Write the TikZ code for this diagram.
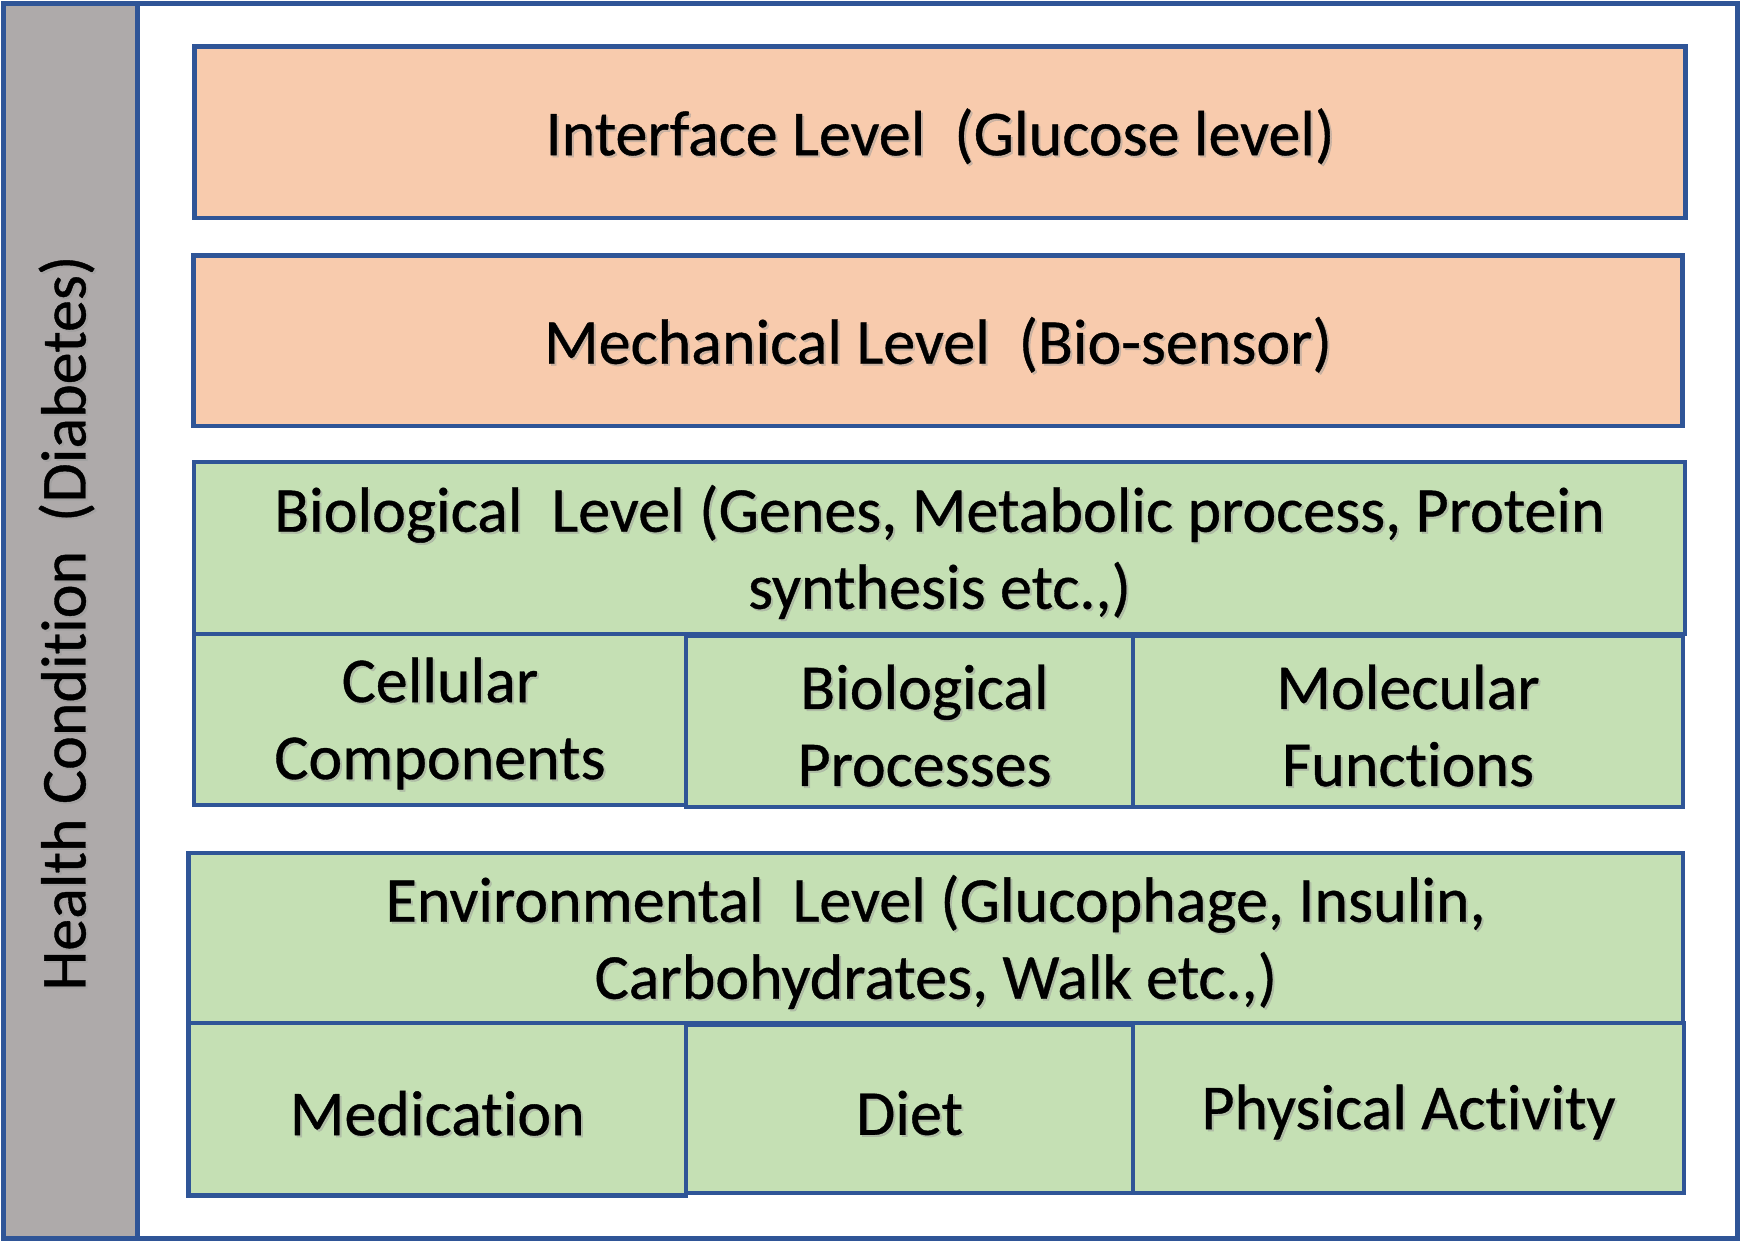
\documentclass[tikz,border=0pt]{standalone}
\usepackage{fontspec}
\setmainfont{Carlito}[Ligatures=NoCommon, FakeBold=0.6]
\definecolor{bl}{HTML}{2F5597}
\definecolor{org}{HTML}{F8CBAD}
\definecolor{grn}{HTML}{C5E0B4}
\definecolor{gry}{HTML}{AEAAAA}
\newcommand\lvltext[3][0]{%
  \node[shd, xshift=#1pt] at ([shift={(2,2)}]#2.center) {#3};
  \node[txt, xshift=#1pt] at (#2.center) {#3};}
\begin{document}
\begin{tikzpicture}[x=1pt,y=-1pt,
  lvlbox/.style={draw=bl, line width=4.5pt, inner sep=0pt},
  txt/.style={inner sep=0pt, align=center, text=black, yshift=-4pt, font=\fontsize{64}{77}\selectfont},
  shd/.style={txt, text=black!40, opacity=0.45}]
\useasboundingbox (0,0) rectangle (1741,1242);
% outer frame and side panel
\node[lvlbox, fill=white, minimum width=1734pt, minimum height=1235pt] (frame) at (870.5,621) {};
\node[lvlbox, fill=gry, minimum width=134pt, minimum height=1235pt] (side) at (70.5,621) {};
\node[shd, rotate=90, yshift=4pt, xshift=2pt] at ([shift={(2,2)}]side.center) {Health Condition~ (Diabetes)};
\node[txt, rotate=90, yshift=4pt, xshift=2pt] (sidetxt) at (side.center) {Health Condition~ (Diabetes)};
% levels
\node[lvlbox, fill=org, minimum width=1491pt, minimum height=171.5pt] (iface) at (940,132.25) {};
\lvltext{iface}{Interface Level~ (Glucose level)}
\node[lvlbox, fill=org, minimum width=1489pt, minimum height=170.5pt] (mech) at (938,340.75) {};
\lvltext{mech}{Mechanical Level~ (Bio-sensor)}
\node[lvlbox, fill=grn, minimum width=1491pt, minimum height=172pt] (biotop) at (939.5,548) {};
\lvltext{biotop}{Biological~ Level (Genes, Metabolic process, Protein\\synthesis etc.,)}
\node[lvlbox, fill=grn, minimum width=492pt, minimum height=171pt] (cell) at (440,719.5) {};
\lvltext{cell}{Cellular\\Components}
\node[lvlbox, fill=grn, minimum width=447pt, minimum height=171pt] (bproc) at (909.5,721.5) {};
\lvltext[15]{bproc}{Biological\\Processes}
\node[lvlbox, fill=grn, minimum width=550pt, minimum height=171pt] (molec) at (1408,721.5) {};
\lvltext{molec}{Molecular\\Functions}
\node[lvlbox, fill=grn, minimum width=1494.5pt, minimum height=170pt] (envtop) at (935.75,938) {};
\lvltext{envtop}{Environmental~ Level (Glucophage, Insulin,\\Carbohydrates, Walk etc.,)}
\node[lvlbox, fill=grn, minimum width=497.5pt, minimum height=172.5pt] (med) at (437.25,1109.25) {};
\lvltext{med}{Medication}
\node[lvlbox, fill=grn, minimum width=447pt, minimum height=168pt] (diet) at (909.5,1109) {};
\lvltext{diet}{Diet}
\node[lvlbox, fill=grn, minimum width=551pt, minimum height=170pt] (phys) at (1408.5,1108) {};
\lvltext{phys}{Physical Activity}
\end{tikzpicture}
\end{document}
